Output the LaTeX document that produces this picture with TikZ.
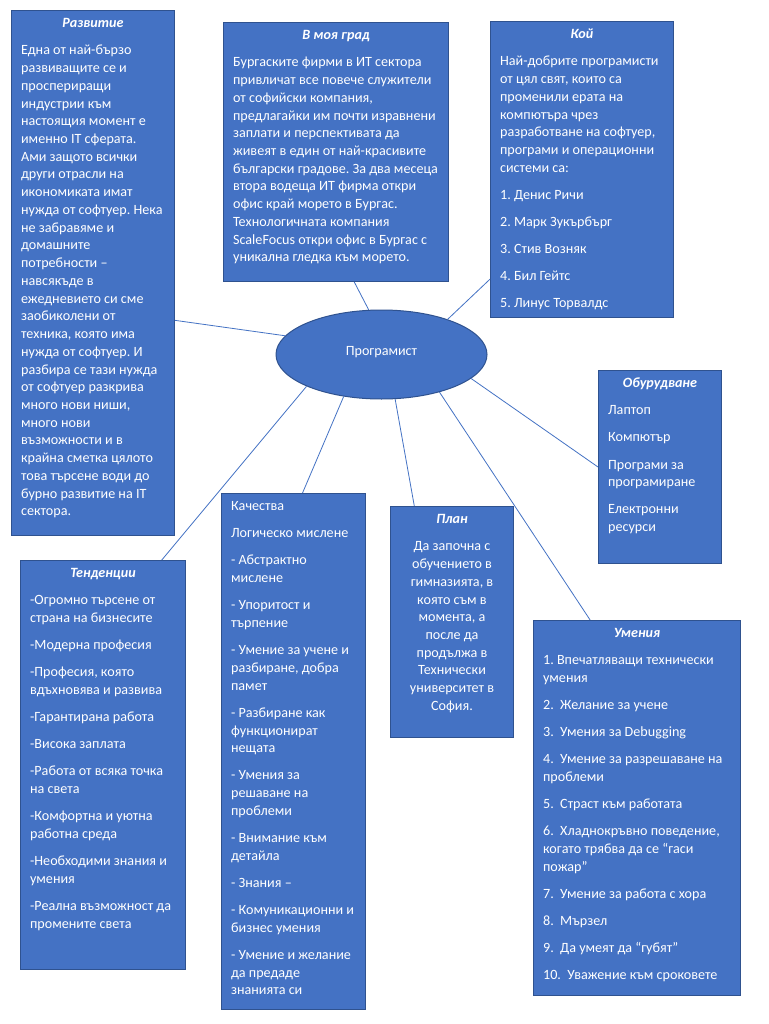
\documentclass[tikz,border=0pt]{standalone}
\usepackage{fontspec}
\setmainfont{Carlito}
\usepackage{tikz}
\usetikzlibrary{shapes.geometric}
\frenchspacing
\definecolor{boxfill}{HTML}{4472C4}
\definecolor{boxedge}{HTML}{2F528F}
\newcommand{\boxhead}[1]{{\centering\bfseries\itshape #1\par}}
\newcommand{\boxtext}[3]{\begin{minipage}[t][#2][t]{#1}\setlength{\parskip}{7.05pt}\raggedright\strut #3\end{minipage}}
\tikzset{
	infobox/.style={rectangle, draw=boxedge, line width=0.75pt, fill=boxfill, text=white,
		anchor=north west, inner xsep=7.2pt, inner ysep=3.6pt, font=\fontsize{10.6}{13.3}\selectfont},
	hub/.style={ellipse, draw=boxedge, line width=0.75pt, fill=boxfill, text=white, inner sep=0pt,
		minimum width=158.25pt, minimum height=66.75pt, font=\fontsize{10.6}{13.3}\selectfont},
	link/.style={draw=boxfill, line width=0.6pt}
}

\begin{document}
\begin{tikzpicture}[x=0.75pt, y=-0.75pt]
	\fill[white] (0,0) rectangle (768,1024);
	\node[hub] (prog) at (381.5,354.5) {\raisebox{5pt}{Програмист}};
	\node[infobox] (razv) at (11,10) {\boxtext{107.85pt}{386.55pt}{\boxhead{Развитие}
		Една от най-бързо\\ развиващите се и\\ проспериращи\\ индустрии към\\ настоящия момент е\\ именно IT сферата.\\
		Ами защото всички\\ други отрасли на\\ икономиката имат\\ нужда от софтуер. Нека\\ не забравяме и\\ домашните\\
		потребности –\\ навсякъде в\\ ежедневието си сме\\ заобиколени от\\ техника, която има\\ нужда от софтуер. И\\
		разбира се тази нужда\\ от софтуер разкрива\\ много нови ниши,\\ много нови\\ възможности и в\\ крайна сметка цялото\\
		това търсене води до\\ бурно развитие на IT\\ сектора.}};
	\node[infobox] (grad) at (223,22) {\boxtext{154.35pt}{187.05pt}{\boxhead{В моя град}
		Бургаските фирми в ИТ сектора\\ привличат все повече служители\\ от софийски компания,\\ предлагайки им почти изравнени\\
		заплати и перспективата да\\ живеят в един от най-красивите\\ български градове. За два месеца\\ втора водеща ИТ фирма откри\\
		офис край морето в Бургас.\\ Технологичната компания\\ ScaleFocus откри офис в Бургас с\\ уникална гледка към морето.}};
	\node[infobox] (koi) at (490,21) {\boxtext{122.85pt}{214.8pt}{\boxhead{Кой}
		Най-добрите програмисти\\ от цял свят, които са\\ променили ерата на\\ компютъра чрез\\ разработване на софтуер,\\
		програми и операционни\\ системи са:\par
		1. Денис Ричи\par 2. Марк Зукърбърг\par 3. Стив Возняк\par 4. Бил Гейтс\par 5. Линус Торвалдс}};
	\node[infobox] (obor) at (598,370) {\boxtext{77.85pt}{137.55pt}{\boxhead{Обурудване}
		Лаптоп\par Компютър\par Програми за\\ програмиране\par Електронни\\ ресурси}};
	\node[infobox] (tend) at (20,560) {\boxtext{109.35pt}{299.55pt}{\boxhead{Тенденции}
		-Огромно търсене от\\ страна на бизнесите\par -Модерна професия\par -Професия, която\\ вдъхновява и развива\par
		-Гарантирана работа\par -Висока заплата\par -Работа от всяка точка\\ на света\par -Комфортна и уютна\\ работна среда\par
		-Необходими знания и\\ умения\par -Реална възможност да\\ промените света}};
	\node[infobox] (kach) at (221,493) {\boxtext{93.6pt}{379.8pt}{Качества\par Логическо мислене\par
		- Абстрактно\\ мислене\par - Упоритост и\\ търпение\par - Умение за учене и\\ разбиране, добра\\ памет\par
		- Разбиране как\\ функционират\\ нещата\par - Умения за\\ решаване на\\ проблеми\par - Внимание към\\ детайла\par
		- Знания –\par - Комуникационни и\\ бизнес умения\par - Умение и желание\\ да предаде\\ знанията си}};
	\node[infobox] (plan) at (390,506) {\boxtext{77.85pt}{166.05pt}{\boxhead{План}
		{\centering Да започна с\\ обучението в\\ гимназията, в\\ която съм в\\ момента, а\\ после да\\ продължа в\\
		Технически\\ университет в\\ София.\par}}};
	\node[infobox] (umen) at (533,620) {\boxtext{140.85pt}{274.05pt}{\boxhead{Умения}
		1. Впечатляващи технически\\ умения\par 2.\ \ Желание за учене\par 3.\ \ Умения за Debugging\par
		4.\ \ Умение за разрешаване на\\ проблеми\par 5.\ \ Страст към работата\par
		6.\ \ Хладнокръвно поведение,\\ когато трябва да се “гаси\\ пожар”\par 7.\ \ Умение за работа с хора\par
		8.\ \ Мързел\par 9.\ \ Да умеят да “губят”\par 10.\ \ Уважение към сроковете}};
	\draw[link] (prog.169.9) -- (razv.330.8);
	\draw[link] (prog.106.5) -- (grad.278.6);
	\draw[link] (prog.28.8) -- (koi.230.2);
	\draw[link] (prog.345.6) -- (obor.180);
	\draw[link] (prog.203.9) -- (tend.74.3);
	\draw[link] (prog.228.5) -- (kach.88.9);
	\draw[link] (prog.287.7) -- (plan.108);
	\draw[link] (prog.327.1) -- (umen.104.2);
\end{tikzpicture}
\end{document}
